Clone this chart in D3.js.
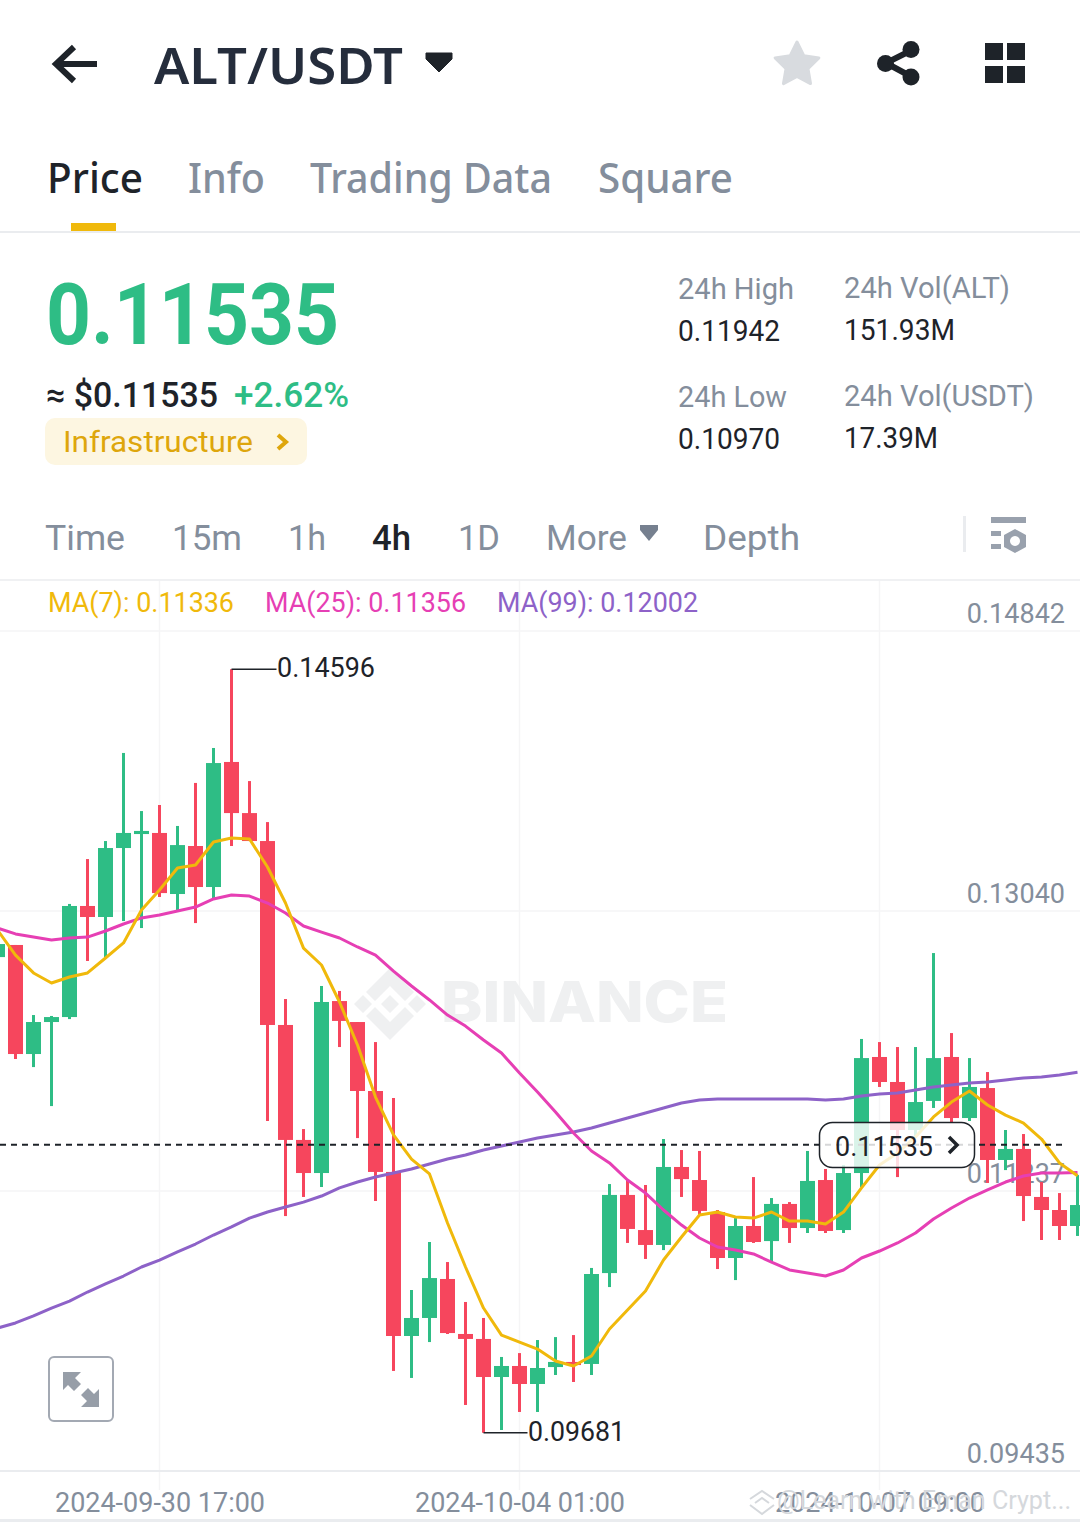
<!DOCTYPE html>
<html>
<head>
<meta charset="utf-8">
<script src="https://cdn.jsdelivr.net/npm/d3@7/dist/d3.min.js"></script>
<style>
  html, body { margin: 0; padding: 0; background: #fff; }
  svg { display: block; }
  text { font-family: Roboto, sans-serif; }
</style>
</head>
<body>
<svg id="chart" width="1080" height="1522"></svg>
<script>
// 4h candles, oldest first
var opens = [0.12743,0.12821,0.12119,0.12325,0.12357,0.13072,0.13001,0.13445,0.13535,0.13542,0.13149,0.13458,0.13194,0.13999,0.13670,0.13490,0.12306,0.11566,0.11353,0.12460,0.12325,0.11881,0.11360,0.10304,0.10420,0.10671,0.10317,0.10285,0.10040,0.10111,0.09995,0.10104,0.10137,0.10124,0.10709,0.11212,0.10986,0.10890,0.11392,0.11308,0.11102,0.10806,0.11012,0.10915,0.11154,0.10999,0.11308,0.10986,0.11353,0.12100,0.11939,0.11630,0.11817,0.12100,0.11707,0.11900,0.11437,0.11508,0.11199,0.11115,0.11012];
var highs = [0.12827,0.12821,0.12370,0.12364,0.13085,0.13374,0.13490,0.14057,0.13683,0.13722,0.13587,0.13864,0.14089,0.14596,0.13876,0.13612,0.12473,0.11636,0.12557,0.12525,0.12325,0.12196,0.11836,0.10600,0.10909,0.10780,0.10523,0.10420,0.10169,0.10194,0.10278,0.10297,0.10310,0.10742,0.11282,0.11308,0.11276,0.11572,0.11501,0.11495,0.11115,0.11063,0.11327,0.11192,0.11166,0.11495,0.11379,0.11405,0.12216,0.12196,0.12164,0.12164,0.12769,0.12254,0.12093,0.12003,0.11630,0.11604,0.11295,0.11224,0.11340];
var lows = [0.12743,0.12087,0.12035,0.11784,0.12344,0.12718,0.12743,0.12975,0.12930,0.13130,0.13046,0.12962,0.13123,0.13458,0.13490,0.11688,0.11076,0.11199,0.11263,0.12164,0.11578,0.11173,0.10079,0.10034,0.10265,0.10317,0.09860,0.09681,0.09699,0.09815,0.09815,0.10053,0.10008,0.10053,0.10619,0.10903,0.10800,0.10857,0.11199,0.11083,0.10735,0.10664,0.10903,0.10780,0.10903,0.10967,0.10967,0.10967,0.11263,0.11907,0.11327,0.11590,0.11772,0.11675,0.11688,0.11289,0.11372,0.11044,0.10922,0.10922,0.10948];
var closes = [0.12827,0.12119,0.12325,0.12357,0.13072,0.13001,0.13445,0.13542,0.13555,0.13155,0.13464,0.13194,0.13992,0.13670,0.13490,0.12306,0.11566,0.11353,0.12454,0.12332,0.11881,0.11360,0.10304,0.10420,0.10677,0.10323,0.10285,0.10040,0.10111,0.09995,0.10098,0.10137,0.10117,0.10703,0.11212,0.10993,0.10890,0.11392,0.11314,0.11109,0.10806,0.11012,0.10909,0.11154,0.10999,0.11302,0.10980,0.11353,0.12093,0.11939,0.11630,0.11810,0.12093,0.11707,0.11907,0.11437,0.11508,0.11205,0.11115,0.11012,0.11147];

var ma7 = [0.12917,0.12756,0.12641,0.12576,0.12615,0.12641,0.12737,0.12834,0.13046,0.13175,0.13316,0.13336,0.13484,0.13510,0.13503,0.13323,0.13091,0.12801,0.12692,0.12454,0.12177,0.11842,0.11598,0.11443,0.11347,0.11031,0.10748,0.10484,0.10310,0.10265,0.10220,0.10143,0.10111,0.10175,0.10349,0.10471,0.10594,0.10793,0.10941,0.11083,0.11102,0.11070,0.11063,0.11102,0.11044,0.11044,0.11025,0.11102,0.11257,0.11405,0.11482,0.11585,0.11714,0.11810,0.11881,0.11791,0.11726,0.11675,0.11572,0.11418,0.11336];
var ma25 = [0.12930,0.12892,0.12872,0.12853,0.12866,0.12872,0.12911,0.12956,0.12995,0.13014,0.13040,0.13065,0.13117,0.13143,0.13136,0.13091,0.13027,0.12943,0.12904,0.12866,0.12808,0.12756,0.12653,0.12557,0.12467,0.12370,0.12299,0.12209,0.12126,0.11997,0.11875,0.11746,0.11611,0.11495,0.11418,0.11308,0.11224,0.11115,0.11018,0.10935,0.10877,0.10857,0.10832,0.10780,0.10729,0.10709,0.10690,0.10729,0.10806,0.10851,0.10903,0.10967,0.11057,0.11128,0.11192,0.11244,0.11295,0.11334,0.11353,0.11353,0.11356];
var ma99 = [0.10355,0.10388,0.10433,0.10484,0.10529,0.10587,0.10639,0.10690,0.10748,0.10793,0.10845,0.10896,0.10954,0.11006,0.11063,0.11102,0.11134,0.11166,0.11205,0.11257,0.11295,0.11327,0.11353,0.11379,0.11411,0.11443,0.11469,0.11501,0.11527,0.11553,0.11578,0.11598,0.11617,0.11643,0.11675,0.11707,0.11739,0.11772,0.11804,0.11823,0.11829,0.11829,0.11829,0.11829,0.11829,0.11829,0.11823,0.11829,0.11849,0.11862,0.11868,0.11887,0.11907,0.11920,0.11932,0.11939,0.11952,0.11965,0.11971,0.11984,0.12002];

var priceTicks = [0.14842, 0.13040, 0.11237, 0.09435];
var timeTickIndex = [9, 29, 49];
var timeTickLabels = ["2024-09-30 17:00", "2024-10-04 01:00", "2024-10-07 09:00"];

var lastPrice = 0.11535;
var highest = 0.14596, highestIndex = 13;
var lowest = 0.09681, lowestIndex = 27;

var tabs = ["Price", "Info", "Trading Data", "Square"];
var intervals = ["Time", "15m", "1h", "4h", "1D", "More", "Depth"];

var red = "#f6465d", green = "#2ebd85", ink = "#1e2329", gray = "#848e9c", line = "#eaecef";

var svg = d3.select("#chart");

var x = d3.scaleLinear().domain([0, 60]).range([-2.5, 1077.5]);
var y = d3.scaleLinear().domain([0.09435, 0.14842]).range([1471, 631]);

// len squeezes the text to the width it has in the screenshot
function label(sel, txt, px, py, size, color, weight, len) {
  var t = sel.append("text").attr("x", px).attr("y", py)
    .attr("font-size", size).attr("fill", color)
    .attr("font-weight", weight || 400).text(txt);
  if (len) t.attr("textLength", len).attr("lengthAdjust", "spacingAndGlyphs");
  return t;
}

// ---- header
var head = svg.append("g");
head.append("path").attr("d", "M97 64H58M74 47L56 64L74 81")
  .attr("fill", "none").attr("stroke", ink).attr("stroke-width", 6);
label(head, "ALT/USDT", 154, 84, 50, "#252d3c", 600, 249).style("font-family", "Noto Sans");
head.append("path").attr("d", "M426 53H452V59L439 72L426 59Z").attr("fill", ink).attr("stroke", ink).attr("stroke-width", 1).attr("stroke-linejoin", "round");
head.append("path")
  .attr("d", d3.range(10).map(function(i) {
    var r = i % 2 ? 11.5 : 23, a = i * Math.PI / 5;
    return (i ? "L" : "M") + (797 + r * Math.sin(a)) + " " + (65 - r * Math.cos(a));
  }).join("") + "Z")
  .attr("fill", "#d8dbdf").attr("stroke", "#d8dbdf").attr("stroke-width", 3).attr("stroke-linejoin", "round");
head.append("path").attr("d", "M912 50L886 63L912 77").attr("fill", "none").attr("stroke", ink).attr("stroke-width", 6);
[[911, 49.5, 8.5], [885.5, 63.5, 8.5], [911, 77, 8.5]].forEach(function(c) {
  head.append("circle").attr("cx", c[0]).attr("cy", c[1]).attr("r", c[2]).attr("fill", ink);
});
[[985, 43], [1007, 43], [985, 66], [1007, 66]].forEach(function(c) {
  head.append("rect").attr("x", c[0]).attr("y", c[1]).attr("width", 18).attr("height", 17).attr("fill", ink);
});

// ---- tabs
var tabX = [47, 188, 310, 598];
var tabW = [96, 77, 242, 135];
tabs.forEach(function(t, i) {
  label(svg, t, tabX[i], 193, 41, i == 0 ? ink : gray, 500, tabW[i]).style("font-family", "Noto Sans");
});
svg.append("rect").attr("x", 71).attr("y", 223).attr("width", 45).attr("height", 8).attr("fill", "#f0b90b");
svg.append("rect").attr("x", 0).attr("y", 231).attr("width", 1080).attr("height", 2).attr("fill", line);

// ---- price block
label(svg, "0.11535", 46, 344, 85, green, 700, 293);
label(svg, "≈ $0.11535", 46, 407, 35, ink, 500, 172);
label(svg, "+2.62%", 234, 407, 35, green, 500, 115);
svg.append("rect").attr("x", 45).attr("y", 418).attr("width", 262).attr("height", 47).attr("rx", 10).attr("fill", "#fdf6e1");
label(svg, "Infrastructure", 63, 452, 30, "#dea60c", 400, 190);
svg.append("path").attr("d", "M278 435L286 442L278 449").attr("fill", "none").attr("stroke", "#dea60c").attr("stroke-width", 4);

var stats = [
  ["24h High", "0.11942", 678, 299, 116, 102], ["24h Vol(ALT)", "151.93M", 844, 298, 166, 111],
  ["24h Low", "0.10970", 678, 407, 109, 102], ["24h Vol(USDT)", "17.39M", 844, 406, 190, 94]
];
stats.forEach(function(s) {
  label(svg, s[0], s[2], s[3], 30, gray, 400, s[4]);
  label(svg, s[1], s[2], s[3] + 42, 29, ink, 400, s[5]);
});

// ---- interval row
var intervalX = [45, 172, 288, 372, 458, 546, 703];
var intervalW = [80, 70, 38, 39, 42, 81, 97];
intervals.forEach(function(t, i) {
  label(svg, t, intervalX[i], 550, 35, t == "4h" ? ink : gray, t == "4h" ? 500 : 400, intervalW[i]);
});
svg.append("path").attr("d", "M640 525H658V530L649 541L640 530Z").attr("fill", "#76808f");
svg.append("rect").attr("x", 963).attr("y", 516).attr("width", 3).attr("height", 36).attr("fill", line);
var tool = svg.append("g").attr("fill", "#99a1ad");
tool.append("rect").attr("x", 991).attr("y", 517).attr("width", 35).attr("height", 6);
tool.append("rect").attr("x", 991).attr("y", 531).attr("width", 10).attr("height", 5);
tool.append("rect").attr("x", 991).attr("y", 544).attr("width", 10).attr("height", 5);
tool.append("path").attr("fill-rule", "evenodd")
  .attr("d", "M1015 529L1026 535V547L1015 553L1004 547V535ZM1015 536a5 5 0 1 0 0.01 0Z");
svg.append("rect").attr("x", 0).attr("y", 579).attr("width", 1080).attr("height", 2).attr("fill", "#f0f1f3");

// ---- grid
svg.append("g").selectAll("line").data(priceTicks).enter().append("line")
  .attr("x1", 0).attr("x2", 1080)
  .attr("y1", function(d) { return y(d); }).attr("y2", function(d) { return y(d); })
  .attr("stroke", "#f5f5f6").attr("stroke-width", 1.5);
svg.append("g").selectAll("line").data(timeTickIndex).enter().append("line")
  .attr("x1", function(d) { return x(d); }).attr("x2", function(d) { return x(d); })
  .attr("y1", 581).attr("y2", 1490)
  .attr("stroke", "#f5f5f6").attr("stroke-width", 1.5);
svg.append("rect").attr("x", 0).attr("y", 1470).attr("width", 1080).attr("height", 2).attr("fill", line);

// ---- watermark
var mark = svg.append("g").attr("fill", "#eff0f1");
mark.append("path").attr("d",
  "M390 968L414 992L405 1001L390 986L375 1001L366 992Z" +
  "M390 1040L366 1016L375 1007L390 1022L405 1007L414 1016Z" +
  "M354 1004L363 995L372 1004L363 1013Z" +
  "M408 1004L417 995L426 1004L417 1013Z" +
  "M390 995L399 1004L390 1013L381 1004Z");
label(mark, "BINANCE", 441, 1022, 57, "#eff0f1", 800, 287).style("font-family", "Inter");

// ---- axes (labels sit under the candles)
var yAxis = d3.axisLeft(y).tickValues(priceTicks).tickSize(0).tickPadding(0)
  .tickFormat(d3.format(".5f"));
var yG = svg.append("g").attr("transform", "translate(1065,0)").call(yAxis);
yG.select(".domain").remove();
yG.selectAll("text").attr("y", -18).attr("dy", "0.35em")
  .style("font-family", "Roboto").style("font-size", "27px").attr("fill", gray);

var xAxis = d3.axisBottom(x).tickValues(timeTickIndex).tickSize(0).tickPadding(0)
  .tickFormat(function(d, i) { return timeTickLabels[i]; });
var xG = svg.append("g").attr("transform", "translate(0,1493)").call(xAxis);
xG.select(".domain").remove();
xG.selectAll("text").style("font-family", "Roboto").style("font-size", "27px").attr("fill", gray)
  .attr("textLength", 210).attr("lengthAdjust", "spacingAndGlyphs");

// ---- candles
var candles = svg.append("g").selectAll("g").data(opens).enter().append("g")
  .attr("fill", function(d, i) { return closes[i] >= opens[i] ? green : red; });
candles.append("rect")
  .attr("x", function(d, i) { return x(i) - 1.5; }).attr("width", 3)
  .attr("y", function(d, i) { return y(highs[i]); })
  .attr("height", function(d, i) { return y(lows[i]) - y(highs[i]); });
candles.append("rect")
  .attr("x", function(d, i) { return x(i) - 7.5; }).attr("width", 15)
  .attr("y", function(d, i) { return y(Math.max(opens[i], closes[i])); })
  .attr("height", function(d, i) { return Math.max(1, Math.abs(y(opens[i]) - y(closes[i]))); });

// ---- moving averages
var maLine = d3.line().x(function(d, i) { return x(i); }).y(function(d) { return y(d); });
[[ma99, "#8d62c8"], [ma25, "#e63fb4"], [ma7, "#f0b90b"]].forEach(function(m) {
  svg.append("path").attr("d", maLine(m[0])).attr("fill", "none")
    .attr("stroke", m[1]).attr("stroke-width", 3).attr("stroke-linejoin", "round");
});

label(svg, "MA(7): 0.11336", 48, 612, 28, "#f0b90b", 400, 186);
label(svg, "MA(25): 0.11356", 265, 612, 28, "#e63fb4", 400, 201);
label(svg, "MA(99): 0.12002", 497, 612, 28, "#8d62c8", 400, 201);

// ---- high / low callouts
svg.append("line").attr("x1", x(highestIndex)).attr("x2", x(highestIndex) + 45)
  .attr("y1", y(highest)).attr("y2", y(highest)).attr("stroke", ink).attr("stroke-width", 1.5);
label(svg, "0.14596", x(highestIndex) + 45.5, y(highest) + 8, 27, ink, 400, 98);
svg.append("line").attr("x1", x(lowestIndex)).attr("x2", x(lowestIndex) + 44)
  .attr("y1", y(lowest)).attr("y2", y(lowest)).attr("stroke", ink).attr("stroke-width", 1.5);
label(svg, "0.09681", x(lowestIndex) + 44.5, y(lowest) + 8, 27, ink, 400, 97);

// ---- last price
svg.append("line").attr("x1", 0).attr("x2", 1065)
  .attr("y1", y(lastPrice)).attr("y2", y(lastPrice))
  .attr("stroke", ink).attr("stroke-width", 1.8).attr("stroke-dasharray", "6 5");
svg.append("rect").attr("x", 819.5).attr("y", 1122.5).attr("width", 155).attr("height", 45).attr("rx", 13)
  .attr("fill", "#fff").attr("fill-opacity", 0.82).attr("stroke", ink).attr("stroke-width", 1.5);
label(svg, "0.11535", 835, 1156, 28, ink, 400, 98);
svg.append("path").attr("d", "M949 1137L957 1145L949 1153").attr("fill", "none").attr("stroke", ink).attr("stroke-width", 3.5);

// ---- expand button
svg.append("rect").attr("x", 49).attr("y", 1357).attr("width", 64).attr("height", 64).attr("rx", 5)
  .attr("fill", "#fff").attr("stroke", "#a3a9b3").attr("stroke-width", 2);
svg.append("path").attr("fill", "#979ea8")
  .attr("d", "M63 1372H81L75 1378L81 1384L74 1391L68 1385L63 1390Z" +
             "M99 1407H81L87 1401L81 1395L88 1388L94 1394L99 1389Z");

// ---- footer
var foot = svg.append("g");
label(foot, "@Learn with Eman Crypt...", 777, 1509, 26, "#d5d8dc", 400, 294);
foot.append("path").attr("fill", "none").attr("stroke", "#d5d8dc").attr("stroke-width", 2)
  .attr("d", "M750 1499L762 1491L774 1499M755 1503L762 1498L769 1503M750 1505L762 1514L774 1505");
svg.append("rect").attr("x", 0).attr("y", 1519).attr("width", 1080).attr("height", 3).attr("fill", line);
</script>
</body>
</html>
